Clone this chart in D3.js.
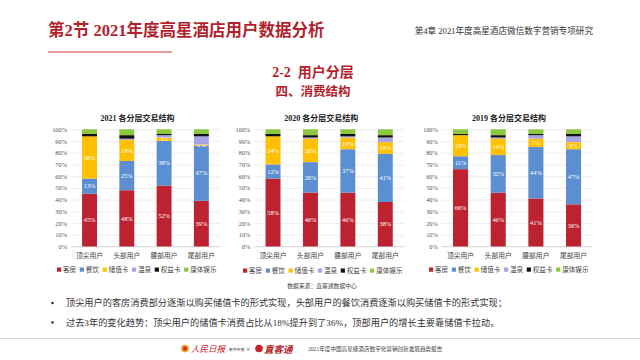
<!DOCTYPE html>
<html>
<head>
<meta charset="utf-8">
<script src="https://cdn.jsdelivr.net/npm/d3@7"></script>
<style>
  body { margin: 0; background: #fff; }
  text { font-family: "Liberation Serif", "Noto Sans CJK SC", serif; }
</style>
</head>
<body>
<script>
const categories = ['顶尖用户', '头部用户', '腰部用户', '尾部用户'];
const seriesNames = ['客房', '餐饮', '储值卡', '温泉', '权益卡', '康体娱乐'];
const colors = ['#bd2230', '#5b8fd2', '#ffc000', '#aaa4e4', '#111111', '#8dc63f'];

// share of each series per category, in seriesNames order
const share2021 = [
  [45, 13, 36, 0, 2, 4],
  [48, 25, 18, 1, 3, 5],
  [52, 38, 3, 2, 1, 4],
  [39, 47, 1, 7, 2, 4]
];
const share2020 = [
  [58, 12, 24, 0, 2, 4],
  [46, 26, 20, 1, 2, 5],
  [46, 37, 10, 1, 2, 4],
  [38, 41, 10, 4, 2, 5]
];
const share2019 = [
  [66, 11, 18, 0, 1, 4],
  [46, 32, 14, 1, 2, 5],
  [41, 44, 7, 3, 1, 4],
  [36, 47, 6, 5, 2, 4]
];
const yTicks = [0, 10, 20, 30, 40, 50, 60, 70, 80, 90, 100];

const red = '#b21f2d';

const svg = d3.select('body').append('svg')
  .attr('width', 640)
  .attr('height', 360);

svg.append('rect').attr('width', 640).attr('height', 360).attr('fill', '#fff');

// header
svg.append('text')
  .attr('x', 48).attr('y', 36)
  .attr('font-size', 16.5).attr('font-weight', 'bold')
  .attr('fill', red)
  .text('第2节 2021年度高星酒店用户数据分析');

svg.append('line')
  .attr('x1', 48).attr('x2', 172).attr('y1', 52).attr('y2', 52)
  .attr('stroke', '#c8343c').attr('stroke-width', 1);

svg.append('text')
  .attr('x', 593).attr('y', 34)
  .attr('text-anchor', 'end')
  .attr('font-size', 8.6).attr('fill', '#333')
  .text('第4章 2021年度高星酒店微信数字营销专项研究');

svg.append('text')
  .attr('x', 313).attr('y', 77)
  .attr('text-anchor', 'middle')
  .attr('font-size', 14).attr('font-weight', 'bold').attr('fill', red)
  .attr('xml:space', 'preserve')
  .text('2-2  用户分层');

svg.append('text')
  .attr('x', 313).attr('y', 96)
  .attr('text-anchor', 'middle')
  .attr('font-size', 12.5).attr('font-weight', 'bold').attr('fill', red)
  .text('四、消费结构');

// charts
const yScale = d3.scaleLinear().domain([0, 100]).range([246.5, 129.3]);

function drawChart(title, share, x0, x1, legendX, legendY) {
  const g = svg.append('g');
  const xScale = d3.scaleBand()
    .domain(categories)
    .range([x0, x1])
    .paddingInner(0.6)
    .paddingOuter(0.3);

  g.append('text')
    .attr('x', (x0 + x1) / 2 - 8).attr('y', 121)
    .attr('text-anchor', 'middle')
    .attr('font-size', 8).attr('font-weight', 'bold').attr('fill', '#222')
    .text(title);

  // grid + y labels
  const yAxis = g.append('g')
    .attr('transform', `translate(${x0}, 0)`)
    .call(d3.axisLeft(yScale)
      .tickValues(yTicks)
      .tickSize(-(x1 - x0))
      .tickPadding(4)
      .tickFormat(d => d + '%'));
  yAxis.select('.domain').remove();
  yAxis.selectAll('line').attr('stroke', '#e3e3e3').attr('stroke-width', 0.6);
  yAxis.selectAll('text')
    .attr('font-size', 6.3).attr('fill', '#555')
    .style('font-family', '"Liberation Serif", serif');

  // baseline
  g.append('line')
    .attr('x1', x0).attr('x2', x1)
    .attr('y1', yScale(0)).attr('y2', yScale(0))
    .attr('stroke', '#d0d0d0').attr('stroke-width', 0.7);

  const rows = categories.map((c, i) => {
    const r = { cat: c };
    seriesNames.forEach((s, j) => r[s] = share[i][j]);
    return r;
  });
  const stacked = d3.stack().keys(seriesNames)(rows);

  stacked.forEach((layer, j) => {
    const lg = g.append('g');
    lg.selectAll('rect')
      .data(layer)
      .join('rect')
      .attr('x', d => xScale(d.data.cat))
      .attr('width', xScale.bandwidth())
      .attr('y', d => yScale(d[1]))
      .attr('height', d => yScale(d[0]) - yScale(d[1]))
      .attr('fill', colors[j]);
    if (j < 3) {
      lg.selectAll('text')
        .data(layer)
        .join('text')
        .attr('x', d => xScale(d.data.cat) + xScale.bandwidth() / 2)
        .attr('y', d => (yScale(d[0]) + yScale(d[1])) / 2 + 2.2)
        .attr('text-anchor', 'middle')
        .attr('font-size', 6.3)
        .attr('fill', '#fff')
        .style('font-family', '"Liberation Serif", serif')
        .text(d => (d[1] - d[0]) + '%');
    }
  });

  // x labels
  g.selectAll('.xl')
    .data(categories)
    .join('text')
    .attr('class', 'xl')
    .attr('x', d => xScale(d) + xScale.bandwidth() / 2)
    .attr('y', 258)
    .attr('text-anchor', 'middle')
    .attr('font-size', 6.8).attr('fill', '#444')
    .text(d => d);

  // legend
  const leg = g.append('g').attr('transform', `translate(${legendX}, ${legendY})`);
  let cx = 0;
  seriesNames.forEach((s, j) => {
    leg.append('rect')
      .attr('x', cx).attr('y', -4.5)
      .attr('width', 4.2).attr('height', 4.2)
      .attr('fill', colors[j]);
    const t = leg.append('text')
      .attr('x', cx + 6).attr('y', 0)
      .attr('font-size', 6.6).attr('fill', '#444')
      .text(s);
    cx += 6 + t.node().getComputedTextLength() + 3.6;
  });
}

drawChart('2021 各分层交易结构', share2021, 70.9, 220, 57, 272);
drawChart('2020 各分层交易结构', share2020, 254.3, 404, 243, 273);
drawChart('2019 各分层交易结构', share2019, 441.7, 592.4, 429, 272);

svg.append('text')
  .attr('x', 322).attr('y', 288)
  .attr('text-anchor', 'middle')
  .attr('font-size', 5.8).attr('fill', '#444')
  .text('数据来源：直客通数据中心');

// notes
const notes = [
  '顶尖用户的客房消费部分逐渐以购买储值卡的形式实现，头部用户的餐饮消费逐渐以购买储值卡的形式实现；',
  '过去3年的变化趋势：顶尖用户的储值卡消费占比从18%提升到了36%，顶部用户的增长主要靠储值卡拉动。'
];
notes.forEach((n, i) => {
  const y = 306 + i * 19.5;
  svg.append('circle').attr('cx', 52.5).attr('cy', y - 3).attr('r', 1.3).attr('fill', '#333');
  svg.append('text')
    .attr('x', 66).attr('y', y)
    .attr('font-size', 9.2).attr('fill', '#333')
    .text(n);
});

svg.append('line')
  .attr('x1', 0).attr('x2', 640).attr('y1', 338.5).attr('y2', 338.5)
  .attr('stroke', '#e0cfd1').attr('stroke-width', 1);

// footer logos
const foot = svg.append('g');
foot.append('circle').attr('cx', 185).attr('cy', 348.5).attr('r', 3.8).attr('fill', '#f0a020');
foot.append('circle').attr('cx', 185).attr('cy', 348.5).attr('r', 2).attr('fill', '#d2282e');
foot.append('text').attr('x', 191).attr('y', 352).attr('font-size', 8.5)
  .attr('font-style', 'italic').attr('fill', '#c8202a').text('人民日报');
foot.append('text').attr('x', 229).attr('y', 351).attr('font-size', 3.8)
  .attr('fill', '#333').text('数字传播');
foot.append('text').attr('x', 246).attr('y', 352).attr('font-size', 8)
  .attr('fill', '#666').text('×');
foot.append('circle').attr('cx', 259).attr('cy', 348.5).attr('r', 3.8).attr('fill', '#c8202a');
foot.append('text').attr('x', 264).attr('y', 352.5).attr('font-size', 9.5)
  .attr('font-weight', 'bold').attr('font-style', 'italic')
  .attr('fill', '#b01e28').text('直客通');
foot.append('text').attr('x', 308).attr('y', 351).attr('font-size', 5.6)
  .attr('fill', '#444').text('2021年度中国高星级酒店数字化营销创新发展趋势报告');
</script>
</body>
</html>
